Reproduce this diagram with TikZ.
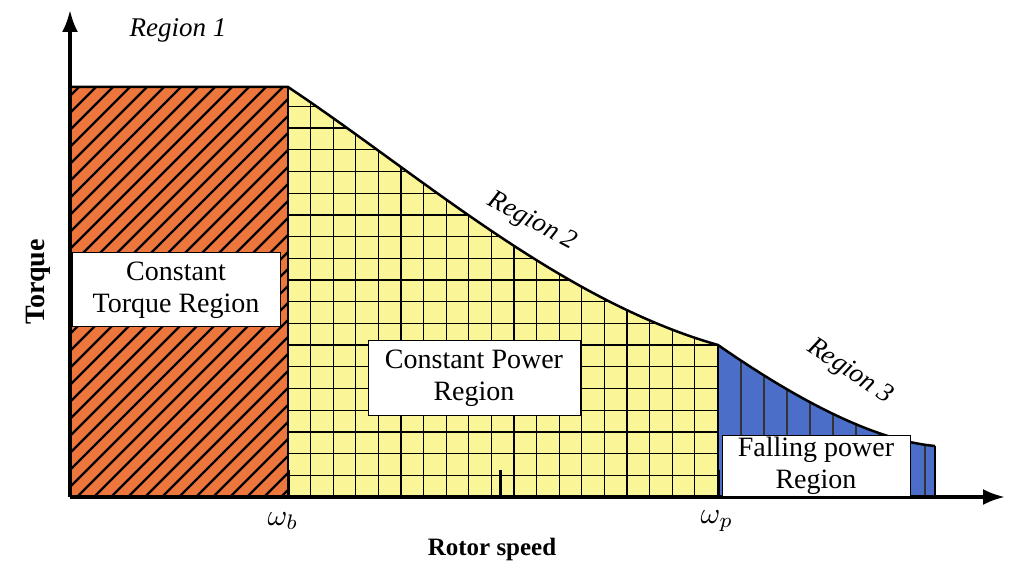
\documentclass[tikz,border=0pt]{standalone}
\usepackage{fontspec}
\setmainfont{Liberation Serif}
\usetikzlibrary{arrows.meta}
\definecolor{oran}{RGB}{236,118,60}
\definecolor{yel}{RGB}{250,245,150}
\definecolor{blu}{RGB}{75,110,200}
\begin{document}
\begin{tikzpicture}[x=1pt,y=-1pt,
  lbl/.style={draw=black,fill=white,line width=1pt,align=center,font=\fontsize{28}{32}\selectfont,inner sep=0pt},
  reg/.style={font=\itshape\fontsize{27}{29}\selectfont},
  omeg/.style={inner sep=0pt},
  axis/.style={line width=3.5pt,-{Latex[length=22pt,width=16pt]}}]
\useasboundingbox (0,0) rectangle (1020,577);
% orange region
\fill[oran] (72,87) rectangle (288,497);
\begin{scope}
\clip (72,87) rectangle (288,497);
\foreach \i in {0,...,40} \draw[line width=2.2pt] (72+\i*17-420,497) -- ++(420,-420);
\end{scope}
% yellow region
\path[fill=yel] (288,87) .. controls (420,175) and (560,300) .. (718,345) -- (718,497) -- (288,497) -- cycle;
\begin{scope}
\clip (288,87) .. controls (420,175) and (560,300) .. (718,345) -- (718,497) -- (288,497) -- cycle;
\foreach \i in {0,...,19} \draw[line width=1.3pt] (288+\i*22.6,80) -- (288+\i*22.6,497);
\foreach \j in {0,...,19} \draw[line width=1.3pt] (288,497-\j*21.7) -- (718,497-\j*21.7);
\end{scope}
% blue region
\path[fill=blu] (718,345) .. controls (790,395) and (870,440) .. (935,446) -- (935,497) -- (718,497) -- cycle;
\begin{scope}
\clip (718,345) .. controls (790,395) and (870,440) .. (935,446) -- (935,497) -- (718,497) -- cycle;
\foreach \i in {0,...,9} \draw[line width=1.5pt,black!80] (718+\i*23,340) -- (718+\i*23,497);
\end{scope}
\draw[line width=1.5pt] (935,446) -- (935,497);
% boundary
\draw[line width=2.5pt] (72,87) -- (288,87) .. controls (420,175) and (560,300) .. (718,345) .. controls (790,395) and (870,440) .. (935,446);
\draw[line width=1.5pt] (288,87) -- (288,497);
\draw[line width=1.5pt] (718,345) -- (718,497);
% ticks
\foreach \x in {288,500,718} \draw[line width=3pt] (\x,470) -- (\x,497);
% axes
\coordinate (O) at (70,497);
\coordinate (Y) at (70,10);
\coordinate (X) at (1005,497);
\draw[axis] (O) -- (Y);
\draw[axis] (O) -- (X);
% labels
\node[lbl,minimum width=208pt,minimum height=74pt] (ct) at (176,290) {Constant\\Torque Region};
\node[lbl,minimum width=212pt,minimum height=75pt] (cp) at (474,378) {Constant Power\\Region};
\node[lbl,minimum width=188pt,minimum height=61pt] (fp) at (816,466) {Falling power\\Region};
\node[reg] (r1) at (178,30) {Region 1};
\node[reg,rotate=-28] (r2) at (532,222) {Region 2};
\node[reg,rotate=-33] (r3) at (850,372) {Region 3};
\node[omeg] (wb) at (283,521) {\scalebox{3}{$\omega_b$}};
\node[omeg] (wp) at (717,521) {\scalebox{3}{$\omega_p$}};
\node[font=\bfseries\fontsize{25}{28}\selectfont] (rs) at (492,549) {Rotor speed};
\node[font=\bfseries\fontsize{28}{30}\selectfont,rotate=90] (tq) at (38,282) {Torque};
\end{tikzpicture}
\end{document}
